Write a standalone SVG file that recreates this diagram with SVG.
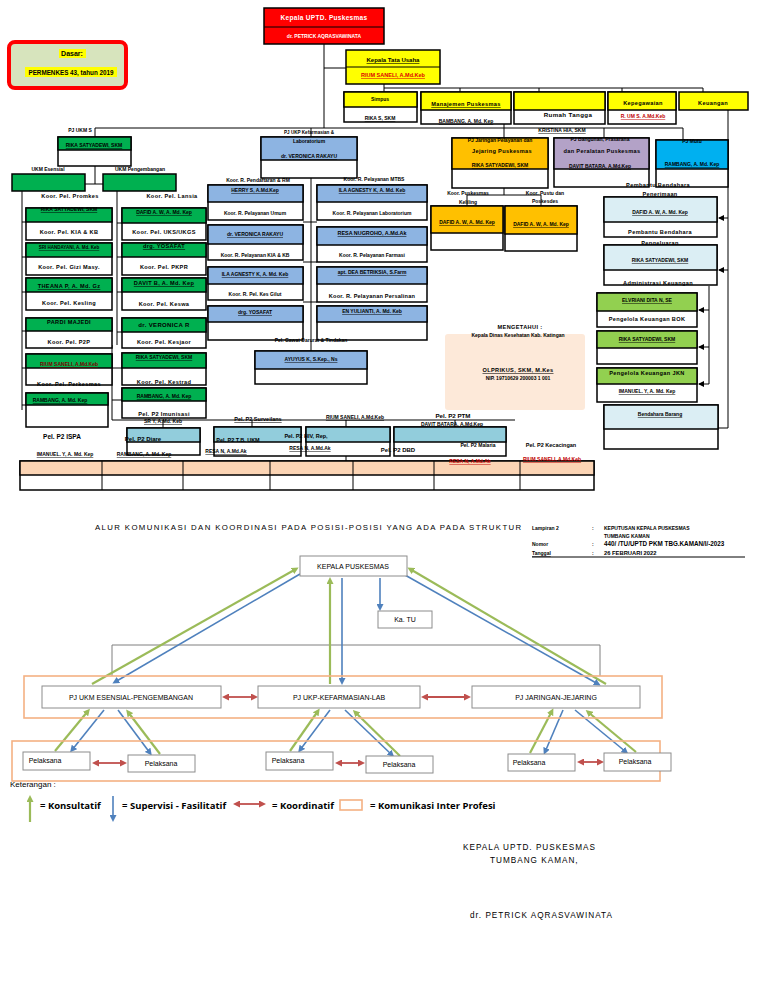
<svg xmlns="http://www.w3.org/2000/svg" width="768" height="1006" viewBox="0 0 768 1006">
<style>
.bx{stroke:#000;stroke-width:1.5}
.ln{stroke:#000;stroke-width:1;fill:none}
.gl{stroke:#7f7f7f;stroke-width:1;fill:none}
text{font-family:"Liberation Sans",Arial,sans-serif;font-weight:bold;font-size:5px;text-anchor:middle;fill:#000}
.u{text-decoration:underline}
.k{font-size:5.6px;letter-spacing:0.35px}
.w{fill:#fff}
.st{text-anchor:start}
.wf{fill:#fff}.g{fill:#00b050}.bl{fill:#8db4e2}.y{fill:#ffff00}.o{fill:#ffc000}.p{fill:#b3a2c7}.c{fill:#00b0f0}
.lb{fill:#dbeef4}.lg{fill:#92d050}.tl{fill:#92cddc}.pc{fill:#fbd4b4}
.lo text{font-weight:normal;font-size:7px}
.gb{fill:#fff;stroke:#8c8c8c;stroke-width:1}
.gr{stroke:#9bbb59;stroke-width:2.2;fill:none}
.be{stroke:#4f81bd;stroke-width:1.6;fill:none}
.rd{stroke:#c0504d;stroke-width:1.8;fill:none}
.or{fill:none;stroke:#f4b183;stroke-width:1.6}
.lg2{font-size:9.5px;text-anchor:start;font-family:"Open Sans","Liberation Sans",sans-serif}
.sg{font-size:8.2px;font-weight:normal;letter-spacing:1px;text-anchor:start}
</style>
<defs>
<marker id="ak" markerWidth="6" markerHeight="6" refX="5" refY="3" orient="auto"><path d="M0,0 L6,3 L0,6 z" fill="#000"/></marker>
<marker id="ag" markerWidth="7" markerHeight="7" refX="4" refY="3.5" orient="auto" markerUnits="userSpaceOnUse"><path d="M0,0 L7,3.5 L0,7 z" fill="#9bbb59"/></marker>
<marker id="ab" markerWidth="7" markerHeight="7" refX="4" refY="3.5" orient="auto" markerUnits="userSpaceOnUse"><path d="M0,0 L7,3.5 L0,7 z" fill="#4f81bd"/></marker>
<marker id="ar" markerWidth="7" markerHeight="7" refX="4" refY="3.5" orient="auto-start-reverse" markerUnits="userSpaceOnUse"><path d="M0,0 L7,3.5 L0,7 z" fill="#c0504d"/></marker>
</defs>
<rect width="768" height="1006" fill="#fff"/>

<g id="connectors">
<path class="ln" d="M324,44V128M324,68H346M384,84V88H703M384,88V92M460,88V92M539,88V92M622,88V92M703,88V92M728,110V428H718"/>
<path class="ln" d="M95,128H683M95,128V137M311,128V137M504,124V138M604,128V138M683,128V140"/>
<path class="ln" d="M95,166V184M85,184H103M22,191V410M22,222H26M22,257H26M22,292H26M22,331H26M22,368H26M22,405H26"/>
<path class="ln" d="M117,191V345M117,223H122M117,257H122M117,292H122M117,332H122M112,345V420M112,368H122M112,400H122"/>
<path class="ln" d="M112,420H515M163,420V428M252,420V427M346,420V427M455,420V427M346,442V461"/>
<path class="ln" d="M311,178V351M303,222H317M303,262H317M303,302H317"/>
<path class="ln" d="M504,188V195M467,195H541M467,195V206M541,195V206"/>
<path class="ln" d="M709,286V384"/>
<path class="ln" d="M709,310H699" marker-end="url(#ak)"/>
<path class="ln" d="M709,347H699" marker-end="url(#ak)"/>
<path class="ln" d="M709,384H699" marker-end="url(#ak)"/>
<path class="ln" d="M728,218H719" marker-end="url(#ak)"/>
<path class="ln" d="M728,270H719" marker-end="url(#ak)"/>
</g>

<g id="kepala"><rect class="bx" x="264" y="8" width="120" height="36" fill="#ff0000"/><path class="ln" d="M264,27H384"/>
<text x="324" y="20" class="w" style="font-size:6.5px;letter-spacing:0.3px">Kepala UPTD. Puskesmas</text>
<text x="324" y="38" class="w" style="font-size:5px">dr. PETRICK AQRASVAWINATA</text></g>

<g id="dasar"><rect x="9" y="42" width="117" height="46" rx="6" fill="#d7e4bd" stroke="#ff0000" stroke-width="4"/>
<rect x="59" y="49" width="27" height="9" fill="#ffff00"/><rect x="25" y="67" width="92" height="10" fill="#ffff00"/>
<text x="72" y="56" style="font-size:7px">Dasar:</text>
<text x="71" y="75" style="font-size:6.3px">PERMENKES 43, tahun 2019</text></g>

<g id="tatausaha"><rect class="bx y" x="346" y="50" width="94" height="34"/><path class="ln" d="M346,67H440"/>
<text x="393" y="62" class="u" style="font-size:6px">Kepala Tata Usaha</text>
<text x="393" y="77" class="u" style="font-size:5.5px;fill:#e00000">RIUM SANELI, A.Md.Keb</text></g>

<g id="simpus"><rect class="bx wf" x="344" y="92" width="73" height="30"/><rect class="bx y" x="344" y="92" width="73" height="15"/>
<text x="380" y="101">Simpus</text><text x="380" y="120" class="u">RIKA S, SKM</text></g>
<g id="manajemen"><rect class="bx wf" x="421" y="92" width="90" height="32"/><rect class="bx y" x="421" y="92" width="90" height="18"/>
<text x="466" y="106" class="u k">Manajemen Puskesmas</text><text x="466" y="123" class="u">BAMBANG, A. Md. Kep</text></g>
<g id="rumahtangga"><rect class="bx wf" x="514" y="92" width="91" height="32"/><rect class="bx y" x="514" y="92" width="91" height="18"/>
<text x="568" y="117" class="k" style="font-size:6.2px">Rumah Tangga</text><text x="562" y="132" class="u">KRISTINA HIA, SKM</text></g>
<g id="kepegawaian"><rect class="bx wf" x="608" y="92" width="68" height="32"/><rect class="bx y" x="608" y="92" width="68" height="18"/>
<text x="643" y="105" class="k">Kepegawaian</text><text x="643" y="118" class="u" style="fill:#c00000">R. UM S. A.Md.Keb</text></g>
<g id="keuangan"><rect class="bx y" x="679" y="92" width="69" height="18"/><text x="713" y="105" class="k">Keuangan</text></g>

<g id="pjukm"><text x="80" y="132">PJ UKM S</text><rect class="bx wf" x="58" y="137" width="73" height="29"/><rect class="bx g" x="58" y="137" width="73" height="13"/>
<text x="94" y="147" class="u">RIKA SATYADEWI, SKM</text></g>
<g id="ukmesensial"><text x="48" y="171">UKM Esensial</text><rect class="bx g" x="12" y="174" width="73" height="17"/></g>
<g id="ukmpengembangan"><text x="140" y="171">UKM Pengembangan</text><rect class="bx g" x="103" y="174" width="73" height="17"/></g>

<g id="promkes"><text x="70" y="198" class="k">Koor. Pel. Promkes</text><rect class="bx wf" x="26" y="208" width="86" height="32"/><rect class="bx g" x="26" y="208" width="86" height="14"/>
<text x="69" y="211" class="u">RIKA SATYADEWI, SKM</text><text x="69" y="234" class="k">Koor. Pel. KIA &amp; KB</text></g>
<g id="kiakb"><rect class="bx wf" x="26" y="243" width="86" height="32"/><rect class="bx g" x="26" y="243" width="86" height="14"/>
<text x="69" y="249" class="u" style="font-size:4.5px">SRI HANDAYANI, A. Md. Keb</text><text x="69" y="269" class="k">Koor. Pel. Gizi Masy.</text></g>
<g id="gizi"><rect class="bx wf" x="26" y="278" width="86" height="32"/><rect class="bx g" x="26" y="278" width="86" height="14"/>
<text x="69" y="288" class="u k">THEANA P, A. Md. Gz</text><text x="69" y="305" class="k">Koor. Pel. Kesling</text></g>
<g id="kesling"><rect class="bx wf" x="26" y="318" width="86" height="30"/><rect class="bx g" x="26" y="318" width="86" height="13"/>
<text x="69" y="324" class="k">PARDI MAJEDI</text><text x="69" y="344" class="k">Koor. Pel. P2P</text></g>
<g id="p2p"><rect class="bx wf" x="26" y="354" width="86" height="31"/><rect class="bx g" x="26" y="354" width="86" height="14"/>
<text x="69" y="366" class="u" style="fill:#7f0000">RIUM SANELI, A.Md.Keb</text><text x="69" y="386" class="k">Koor. Pel. Perkesmas</text></g>
<g id="perkesmas"><rect class="bx wf" x="26" y="393" width="82" height="34"/><rect class="bx g" x="26" y="393" width="82" height="12"/>
<text x="60" y="402" class="u">RAMBANG, A. Md. Kep</text></g>

<g id="lansia"><text x="172" y="198" class="k">Koor. Pel. Lansia</text><rect class="bx wf" x="122" y="208" width="84" height="32"/><rect class="bx g" x="122" y="208" width="84" height="15"/>
<text x="164" y="214" class="u">DAFID A. W, A. Md. Kep</text><text x="164" y="234" class="k">Koor. Pel. UKS/UKGS</text></g>
<g id="uks"><rect class="bx wf" x="122" y="243" width="84" height="32"/><rect class="bx g" x="122" y="243" width="84" height="14"/>
<text x="164" y="248" class="u k">drg. YOSAFAT</text><text x="164" y="269" class="k">Koor. Pel. PKPR</text></g>
<g id="pkpr"><rect class="bx wf" x="122" y="278" width="84" height="32"/><rect class="bx g" x="122" y="278" width="84" height="14"/>
<text x="164" y="285" class="u k">DAVIT B, A. Md. Kep</text><text x="164" y="306" class="k">Koor. Pel. Keswa</text></g>
<g id="keswa"><rect class="bx wf" x="122" y="318" width="84" height="30"/><rect class="bx g" x="122" y="318" width="84" height="14"/>
<text x="164" y="327" class="k" style="font-size:6px">dr. VERONICA R</text><text x="164" y="344" class="k">Koor. Pel. Kesjaor</text></g>
<g id="kesjaor"><rect class="bx wf" x="122" y="353" width="84" height="32"/><rect class="bx g" x="122" y="353" width="84" height="15"/>
<text x="164" y="359" class="u">RIKA SATYADEWI, SKM</text><text x="164" y="384" class="k">Koor. Pel. Kestrad</text></g>
<g id="kestrad"><rect class="bx wf" x="122" y="388" width="84" height="30"/><rect class="bx g" x="122" y="388" width="84" height="13"/>
<text x="164" y="398" class="u">RAMBANG, A. Md. Kep</text><text x="164" y="416" class="k">Pel. P2 Imunisasi</text><text x="163" y="423" class="u">SR Y, A.Md. Keb</text></g>

<g id="pjukp"><text x="309" y="134" style="font-size:4.6px">PJ UKP Kefarmasian &amp;</text><rect class="bx wf" x="261" y="137" width="96" height="41"/><rect class="bx bl" x="261" y="137" width="96" height="23"/>
<text x="309" y="143">Laboratorium</text><text x="309" y="158" class="u">dr. VERONICA RAKAYU</text></g>
<g id="pendaftaran"><text x="258" y="182">Koor. R. Pendaftaran &amp; RM</text><rect class="bx wf" x="208" y="185" width="95" height="35"/><rect class="bx bl" x="208" y="185" width="95" height="17"/>
<text x="255" y="192" class="u">HERRY S, A.Md.Kep</text><text x="255" y="215">Koor. R. Pelayanan Umum</text></g>
<g id="umum"><rect class="bx wf" x="208" y="225" width="95" height="35"/><rect class="bx bl" x="208" y="225" width="95" height="19"/>
<text x="255" y="236" class="u">dr. VERONICA RAKAYU</text><text x="255" y="257">Koor. R. Pelayanan KIA &amp; KB</text></g>
<g id="kiakbr"><rect class="bx wf" x="208" y="267" width="95" height="33"/><rect class="bx bl" x="208" y="267" width="95" height="17"/>
<text x="255" y="276" class="u">ILA AGNESTY K, A. Md. Keb</text><text x="255" y="296">Koor. R. Pel. Kes Gilut</text></g>
<g id="gilut"><rect class="bx wf" x="208" y="306" width="95" height="34"/><rect class="bx bl" x="208" y="306" width="95" height="16"/>
<text x="255" y="314" class="u">drg. YOSAFAT</text></g>
<g id="mtbs"><text x="374" y="181">Koor. R. Pelayanan MTBS</text><rect class="bx wf" x="317" y="185" width="110" height="35"/><rect class="bx bl" x="317" y="185" width="110" height="17"/>
<text x="372" y="192" class="u">ILA AGNESTY K, A. Md. Keb</text><text x="372" y="215">Koor. R. Pelayanan Laboratorium</text></g>
<g id="lab"><rect class="bx wf" x="317" y="227" width="110" height="35"/><rect class="bx bl" x="317" y="227" width="110" height="18"/>
<text x="372" y="235" class="u" style="font-size:5.4px">RESA NUGROHO, A.Md.Ak</text><text x="372" y="257">Koor. R. Pelayanan Farmasi</text></g>
<g id="farmasi"><rect class="bx wf" x="317" y="267" width="110" height="35"/><rect class="bx bl" x="317" y="267" width="110" height="17"/>
<text x="372" y="274" class="u">apt. DEA BETRIKSIA, S.Farm</text><text x="372" y="298" style="font-size:5.6px;letter-spacing:0.2px">Koor. R. Pelayanan Persalinan</text></g>
<g id="persalinan"><rect class="bx wf" x="317" y="306" width="110" height="34"/><rect class="bx bl" x="317" y="306" width="110" height="16"/>
<text x="372" y="313" class="u">EN YULIANTI, A. Md. Keb</text></g>
<g id="ugd"><text x="311" y="342">Pel. Gawat Darurat &amp; Tindakan</text><rect class="bx wf" x="255" y="351" width="112" height="33"/><rect class="bx bl" x="255" y="351" width="112" height="18"/>
<text x="311" y="361" class="u">AYUYUS K, S.Kep., Ns</text></g>

<g id="pjjejaring"><rect class="bx wf" x="452" y="138" width="96" height="50"/><rect class="bx o" x="452" y="138" width="96" height="31"/>
<text x="500" y="142">PJ Jaringan Pelayanan dan</text><text x="502" y="153" class="k">Jejaring Puskesmas</text><text x="500" y="167" class="u">RIKA SATYADEWI, SKM</text></g>
<g id="bangunan"><rect class="bx wf" x="554" y="138" width="95" height="49"/><rect class="bx p" x="554" y="138" width="95" height="31"/>
<text x="600" y="141">PJ Bangunan, Prasarana</text><text x="602" y="153" class="k">dan Peralatan Puskesmas</text><text x="600" y="168" class="u">DAVIT BATARA, A.Md.Kep</text></g>
<g id="mutu"><rect class="bx wf" x="656" y="140" width="72" height="47"/><rect class="bx c" x="656" y="140" width="72" height="29"/>
<text x="692" y="143">PJ Mutu</text><text x="692" y="166" class="u">RAMBANG, A. Md. Kep</text></g>
<g id="keliling"><text x="468" y="195">Koor. Puskesmas</text><text x="468" y="204">Keliling</text><rect class="bx wf" x="431" y="206" width="72" height="44"/><rect class="bx o" x="431" y="206" width="72" height="27"/>
<text x="467" y="224" class="u">DAFID A. W, A. Md. Kep</text></g>
<g id="pustu"><text x="545" y="195">Koor. Pustu dan</text><text x="545" y="203">Poskesdes</text><rect class="bx wf" x="505" y="206" width="72" height="45"/><rect class="bx o" x="505" y="206" width="72" height="28"/>
<text x="541" y="226" class="u">DAFID A. W, A. Md. Kep</text></g>

<g id="bendterima"><text x="658" y="187" class="k">Pembantu Bendahara</text><text x="660" y="196" class="k">Penerimaan</text><rect class="bx wf" x="604" y="197" width="113" height="40"/><rect class="bx lb" x="604" y="197" width="113" height="25"/>
<text x="660" y="214" class="u">DAFID A. W, A. Md. Kep</text><text x="660" y="234" class="k">Pembantu Bendahara</text></g>
<g id="bendkeluar"><text x="660" y="245" class="k">Pengeluaran</text><rect class="bx wf" x="604" y="245" width="113" height="40"/><rect class="bx lb" x="604" y="245" width="113" height="25"/>
<text x="660" y="262" class="u">RIKA SATYADEWI, SKM</text><text x="658" y="285" class="k">Administrasi Keuangan</text></g>
<g id="bok"><rect class="bx wf" x="597" y="293" width="100" height="34"/><rect class="bx lg" x="597" y="293" width="100" height="18"/>
<text x="647" y="302" class="u">ELVRIANI DITA N, SE</text><text x="647" y="321" class="k">Pengelola Keuangan BOK</text></g>
<g id="bok2"><rect class="bx wf" x="597" y="331" width="100" height="33"/><rect class="bx lg" x="597" y="331" width="100" height="17"/>
<text x="647" y="341" class="u">RIKA SATYADEWI, SKM</text></g>
<g id="jkn"><rect class="bx wf" x="597" y="368" width="100" height="34"/><rect class="bx lg" x="597" y="368" width="100" height="16"/>
<text x="647" y="375" class="k">Pengelola Keuangan JKN</text><text x="647" y="393" class="u">IMANUEL. Y, A. Md. Kep</text></g>
<g id="bendbarang"><rect class="bx wf" x="604" y="405" width="114" height="44"/><rect class="bx lb" x="604" y="405" width="114" height="24"/>
<text x="660" y="416" class="u">Bendahara Barang</text></g>

<g id="mengetahui"><rect x="445" y="334" width="140" height="76" rx="3" fill="#fde9d9"/>
<text x="520" y="329" class="k">MENGETAHUI :</text><text x="518" y="337">Kepala Dinas Kesehatan Kab. Katingan</text>
<text x="518" y="372" class="u k">OLPRIKUS, SKM, M.Kes</text><text x="518" y="380">NIP. 19710629 200003 1 001</text></g>

<g id="diare"><rect class="bx wf" x="127" y="428" width="73" height="27"/><rect class="bx tl" x="127" y="428" width="73" height="14"/>
<text x="143" y="441" style="font-size:6px">Pel. P2 Diare</text><text x="144" y="456" class="u">RAMBANG, A. Md. Kep</text></g>
<g id="ispa"><text x="62" y="439" style="font-size:6.5px">Pel. P2 ISPA</text><text x="65" y="456" class="u">IMANUEL. Y, A. Md. Kep</text></g>
<g id="tb"><text x="258" y="421" class="u" style="font-size:5.5px">Pel. P2 Surveilans</text><rect class="bx wf" x="214" y="427" width="87" height="29"/><rect class="bx tl" x="214" y="427" width="87" height="15"/>
<text x="238" y="442" style="font-size:5.5px">Pel. P2 T.B. UKM</text><text x="226" y="453" class="u">RESA N, A.Md.Ak</text></g>
<g id="hiv"><text x="355" y="419" class="u">RIUM SANELI, A.Md.Keb</text><rect class="bx wf" x="306" y="427" width="84" height="29"/><rect class="bx tl" x="306" y="427" width="84" height="15"/>
<text x="306" y="438" style="font-size:5.5px">Pel. P2 HIV, Rep,</text><text x="310" y="450" class="u">RESA N, A.Md.Ak</text></g>
<g id="ptm"><text x="453" y="418" style="font-size:6.2px">Pel. P2 PTM</text><text x="452" y="426" class="u">DAVIT BATARA, A.Md.Kep</text><rect class="bx wf" x="394" y="427" width="112" height="29"/><rect class="bx tl" x="394" y="427" width="112" height="15"/>
<text x="478" y="447">Pel. P2 Malaria</text></g>
<g id="dbd"><text x="398" y="452" style="font-size:6px">Pel. P2 DBD</text><text x="392" y="465" class="u">ESTY PILARENSI, SKM</text></g>
<g id="table"><rect class="bx wf" x="20" y="461" width="574" height="29"/><rect class="bx pc" x="20" y="461" width="574" height="14"/>
<path class="ln" d="M102,461V490M183,461V490M270,461V490M353,461V490M434,461V490M520,461V490" stroke-width="1.5"/>
<text x="470" y="463" class="u" style="fill:#c00000">RESA N, A.Md.Ak</text><text x="551" y="447" style="font-size:5.5px">Pel. P2 Kecacingan</text><text x="552" y="461" class="u" style="fill:#c00000">RIUM SANELI, A.Md.Keb</text></g>

<g id="title"><text x="95" y="530" class="st" style="font-size:7.8px;font-weight:normal;letter-spacing:0.8px" textLength="427">ALUR KOMUNIKASI DAN KOORDINASI PADA POSISI-POSISI YANG ADA PADA STRUKTUR</text></g>
<g id="lampiran" style="font-size:5.2px">
<text x="532" y="530" class="st">Lampiran 2</text><text x="592" y="530" class="st">:</text><text x="604" y="530" class="st">KEPUTUSAN KEPALA PUSKESMAS</text>
<text x="604" y="538" class="st">TUMBANG KAMAN</text>
<text x="532" y="546" class="st">Nomor</text><text x="592" y="546" class="st">:</text><text x="604" y="546" class="st" style="font-size:6.3px">440/     /TU/UPTD PKM TBG.KAMAN/I/-2023</text>
<text x="532" y="555" class="st u">Tanggal</text><text x="592" y="555" class="st">:</text><text x="604" y="555" class="st" style="font-size:5.8px">26 FEBRUARI 2022</text>
<path class="ln" d="M532,557H745"/></g>

<g id="alur-connectors">
<path class="gl" d="M112,676V645H600V676"/>
<path class="gr" d="M92,684L296,569" marker-end="url(#ag)"/>
<path class="be" d="M300,574L115,682" marker-end="url(#ab)"/>
<path class="gr" d="M330,684V580" marker-end="url(#ag)"/>
<path class="be" d="M342,578V682" marker-end="url(#ab)"/>
<path class="be" d="M380,578V608" marker-end="url(#ab)"/>
<path class="gr" d="M606,684L410,569" marker-end="url(#ag)"/>
<path class="be" d="M405,575L598,684" marker-end="url(#ab)"/>
<path class="rd" d="M225,697H255" marker-start="url(#ar)" marker-end="url(#ar)"/>
<path class="rd" d="M424,697H468" marker-start="url(#ar)" marker-end="url(#ar)"/>
<path class="gr" d="M55,751L88,711" marker-end="url(#ag)"/>
<path class="be" d="M104,710L72,750" marker-end="url(#ab)"/>
<path class="be" d="M118,710L150,753" marker-end="url(#ab)"/>
<path class="gr" d="M160,754L128,712" marker-end="url(#ag)"/>
<path class="gr" d="M290,751L318,711" marker-end="url(#ag)"/>
<path class="be" d="M330,710L300,750" marker-end="url(#ab)"/>
<path class="be" d="M345,710L392,755" marker-end="url(#ab)"/>
<path class="gr" d="M400,756L355,712" marker-end="url(#ag)"/>
<path class="gr" d="M530,753L552,711" marker-end="url(#ag)"/>
<path class="be" d="M563,710L545,752" marker-end="url(#ab)"/>
<path class="be" d="M575,710L626,752" marker-end="url(#ab)"/>
<path class="gr" d="M636,752L588,712" marker-end="url(#ag)"/>
<path class="rd" d="M95,763H124" marker-start="url(#ar)" marker-end="url(#ar)"/>
<path class="rd" d="M338,763H362" marker-start="url(#ar)" marker-end="url(#ar)"/>
<path class="rd" d="M580,762H601" marker-start="url(#ar)" marker-end="url(#ar)"/>
</g>

<g id="kepalapkm" class="lo"><rect class="gb" x="300" y="556" width="107" height="20"/><text x="353" y="569">KEPALA PUSKESMAS</text></g>
<g id="katu" class="lo"><rect class="gb" x="378" y="611" width="54" height="17"/><text x="405" y="622">Ka. TU</text></g>
<rect class="or" x="24" y="676" width="638" height="42"/>
<g id="pjukm2" class="lo"><rect class="gb" x="42" y="686" width="179" height="22"/><text x="131" y="700">PJ UKM ESENSIAL-PENGEMBANGAN</text></g>
<g id="pjukp2" class="lo"><rect class="gb" x="258" y="686" width="162" height="22"/><text x="339" y="700">PJ UKP-KEFARMASIAN-LAB</text></g>
<g id="pjjej2" class="lo"><rect class="gb" x="472" y="686" width="168" height="22"/><text x="556" y="700">PJ JARINGAN-JEJARING</text></g>
<rect class="or" x="12" y="741" width="648" height="40"/>
<g id="pel1" class="lo"><rect class="gb" x="23" y="752" width="67" height="18"/><text x="45" y="763">Pelaksana</text></g>
<g id="pel2" class="lo"><rect class="gb" x="128" y="755" width="67" height="17"/><text x="161" y="766">Pelaksana</text></g>
<g id="pel3" class="lo"><rect class="gb" x="266" y="752" width="67" height="18"/><text x="288" y="763">Pelaksana</text></g>
<g id="pel4" class="lo"><rect class="gb" x="366" y="756" width="67" height="17"/><text x="399" y="767">Pelaksana</text></g>
<g id="pel5" class="lo"><rect class="gb" x="508" y="754" width="67" height="17"/><text x="529" y="765">Pelaksana</text></g>
<g id="pel6" class="lo"><rect class="gb" x="604" y="753" width="67" height="18"/><text x="635" y="764">Pelaksana</text></g>

<g id="legend">
<text x="10" y="787" class="st" style="font-size:8px;font-weight:normal">Keterangan :</text>
<path class="gr" d="M30,822V798" marker-end="url(#ag)"/><text x="40" y="809" class="lg2">= Konsultatif</text>
<path class="be" d="M113,796V819" marker-end="url(#ab)"/><text x="122" y="809" class="lg2">= Supervisi - Fasilitatif</text>
<path class="rd" d="M236,804H263" marker-start="url(#ar)" marker-end="url(#ar)"/><text x="272" y="809" class="lg2">= Koordinatif</text>
<rect class="or" x="340" y="800" width="22" height="10"/><text x="370" y="809" class="lg2">= Komunikasi Inter Profesi</text>
</g>
<g id="signature">
<text x="463" y="850" class="sg">KEPALA UPTD. PUSKESMAS</text>
<text x="490" y="863" class="sg">TUMBANG KAMAN,</text>
<text x="470" y="918" class="sg">dr. PETRICK AQRASVAWINATA</text>
</g>
</svg>
